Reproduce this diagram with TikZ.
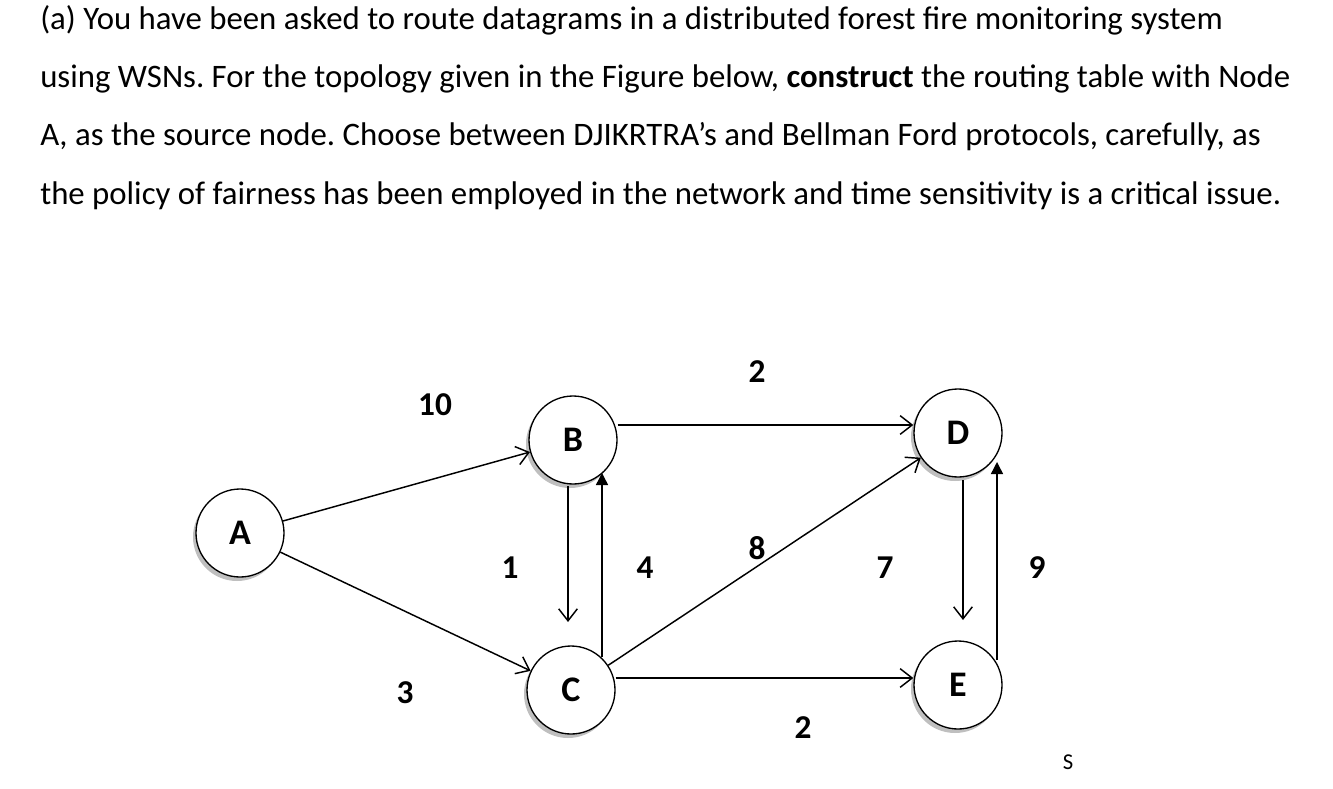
\documentclass[tikz,border=0pt]{standalone}
\usepackage{fontspec}
\setmainfont{Carlito}
\usetikzlibrary{arrows.meta}
\begin{document}
\frenchspacing
\begin{tikzpicture}[x=0.75pt,y=-0.75pt,
  txt/.style={anchor=base west,inner sep=0pt,font=\fontsize{24.6}{28}\selectfont},
  vert/.style={circle,draw,line width=1pt,minimum size=66pt,inner sep=0pt,font=\bfseries\fontsize{27}{30}\selectfont},
  shade/.style={circle,fill=black!25,minimum size=66pt,inner sep=0pt},
  lbl/.style={font=\bfseries\fontsize{25}{28}\selectfont},
  edge/.style={line width=1.1pt,-{Straight Barb[length=9pt,width=14pt,line width=1.1pt]}},
  fedge/.style={line width=1.1pt,-{Triangle[length=9pt,width=9pt]}}]
\useasboundingbox (0,0) rectangle (1333,788);
\node[txt] (t1) at (40,30) {(a) You have been asked to route datagrams in a distributed forest fire monitoring system};
\node[txt] (t2) at (40,88) {using WSNs. For the topology given in the Figure below, \textbf{construct} the routing table with Node};
\node[txt] (t3) at (40,146) {A, as the source node. Choose between DJIKRTRA’s and Bellman Ford protocols, carefully, as};
\node[txt] (t4) at (40,204) {the policy of fairness has been employed in the network and time sensitivity is a critical issue.};
\foreach \n/\x/\y in {A/240/533,B/573/440,C/571/690,D/958/433,E/958/685}{
  \node[shade] (s\n) at (\x-3,\y+4) {};
  \node[vert,fill=white] (\n) at (\x,\y) {\n};
}
\coordinate (bc1) at (568,486); \coordinate (bc2) at (568,622);
\coordinate (cb1) at (602,657); \coordinate (cb2) at (602,473);
\coordinate (de1) at (963,480); \coordinate (de2) at (963,620);
\coordinate (ed1) at (997,660); \coordinate (ed2) at (997,462);
\draw[edge] (A) -- (B);
\draw[edge] (A) -- (C);
\draw[edge] (B.east |- 0,425) -- (D.west |- 0,425);
\draw[edge] (bc1) -- (bc2);
\draw[fedge] (cb1) -- (cb2);
\draw[edge] (C) -- (D);
\draw[edge] (C.east |- 0,678) -- (E.west |- 0,678);
\draw[edge] (de1) -- (de2);
\draw[fedge] (ed1) -- (ed2);
\node[lbl] (l10) at (435,405) {10};
\node[lbl] (l3) at (405,693) {3};
\node[lbl] (l1) at (510,568) {1};
\node[lbl] (l4) at (645,568) {4};
\node[lbl] (l2a) at (757,372) {2};
\node[lbl] (l8) at (757,548) {8};
\node[lbl] (l7) at (885,568) {7};
\node[lbl] (l9) at (1037,568) {9};
\node[lbl] (l2b) at (803,728) {2};
\node[font=\fontsize{17}{20}\selectfont] (s) at (1068,762) {S};
\end{tikzpicture}
\end{document}
